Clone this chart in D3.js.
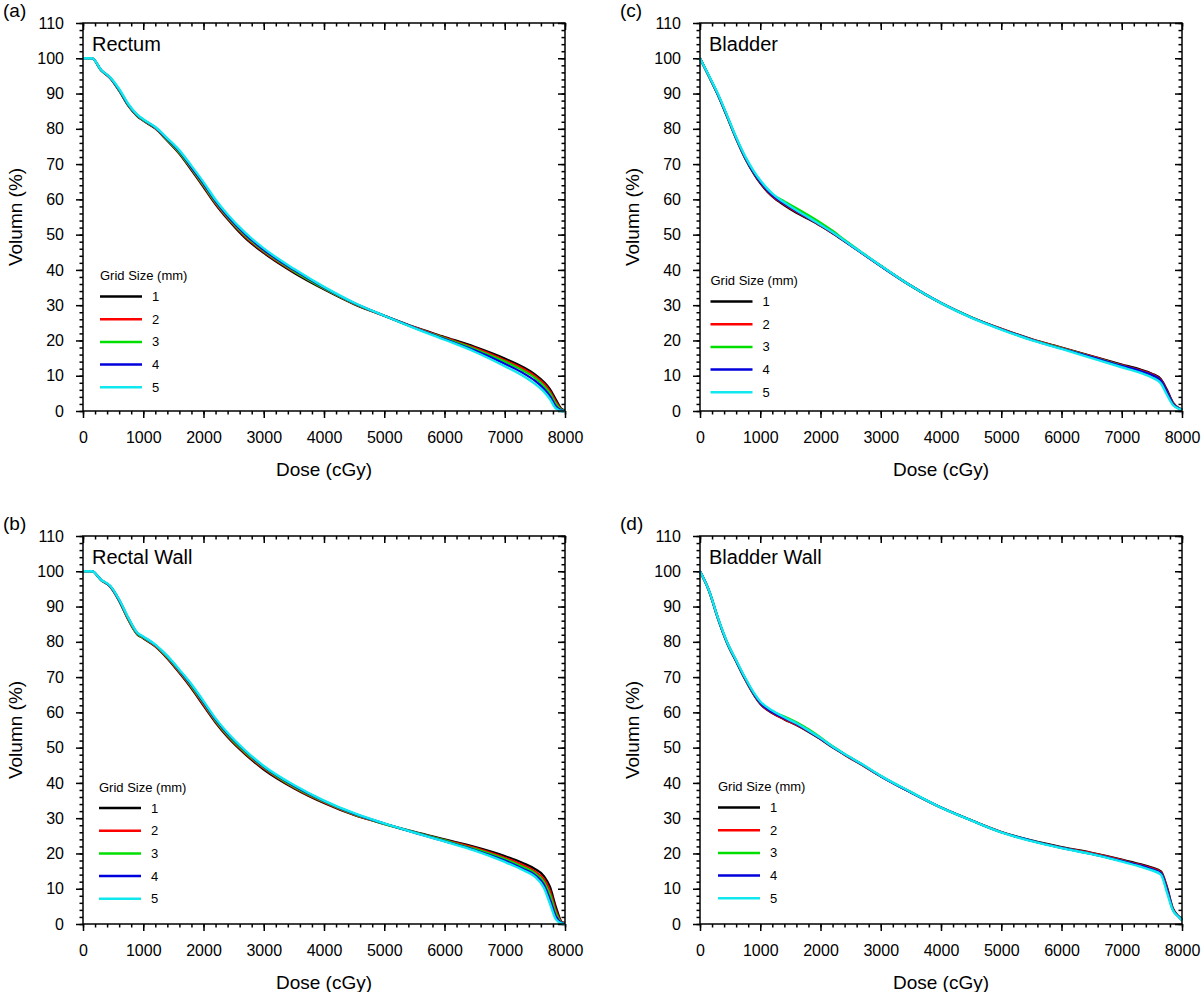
<!DOCTYPE html>
<html>
<head>
<meta charset="utf-8">
<script src="https://cdn.jsdelivr.net/npm/d3@7"></script>
<style>
  body { margin: 0; background: #fff; }
  svg { font-family: "Liberation Sans", Arial, sans-serif; }
  .tick text { font-size: 16px; fill: #000; }
  .tick line { stroke: #000; stroke-width: 1.5; }
</style>
</head>
<body>
<div id="chart"></div>
<script>
const width = 1202;
const height = 992;

// dose grid (cGy) shared by every curve
const doses = [0, 150, 300, 450, 600, 750, 900, 1000, 1200, 1400, 1600, 1800, 2000, 2200, 2400, 2700,
  3000, 3500, 4000, 4500, 5000, 5500, 6000, 6500, 7000, 7300, 7500, 7650, 7750, 7850, 7950, 8000];

const gridSizes = ["1", "2", "3", "4", "5"];
const colors = ["#000000", "#ff0000", "#00e000", "#0000dd", "#10e8f0"];
const xTicks = [0, 1000, 2000, 3000, 4000, 5000, 6000, 7000, 8000];
const yTicks = [0, 10, 20, 30, 40, 50, 60, 70, 80, 90, 100, 110];

// (a) Rectum
const rectumG1 = [100, 100, 96.6, 94.4, 90.8, 86.6, 83.6, 82.3, 80.1, 76.6, 72.9, 68.3, 63.5, 58.6, 54.4, 48.9,
  44.8, 39.2, 34.5, 30.3, 27.0, 23.8, 21.0, 18.2, 14.9, 12.5, 10.4, 8.2, 6.2, 3.2, 0.5, 0.2];
const rectumG2 = [100, 100, 96.6, 94.4, 90.9, 86.7, 83.7, 82.4, 80.2, 76.8, 73.1, 68.6, 63.8, 58.9, 54.7, 49.3,
  45.1, 39.5, 34.7, 30.4, 27.0, 23.7, 20.8, 17.9, 14.4, 12.0, 9.9, 7.7, 5.6, 2.6, 0.3, 0.1];
const rectumG3 = [100, 100, 96.6, 94.5, 91.0, 86.8, 83.8, 82.5, 80.3, 76.9, 73.3, 68.8, 64.1, 59.2, 55.0, 49.6,
  45.4, 39.7, 34.8, 30.5, 27.0, 23.6, 20.6, 17.6, 14.0, 11.5, 9.4, 7.1, 5.0, 2.0, 0.2, 0];
const rectumG4 = [100, 100, 96.7, 94.5, 91.1, 86.9, 83.9, 82.6, 80.4, 77.1, 73.6, 69.1, 64.5, 59.5, 55.3, 50.0,
  45.7, 40.0, 35.0, 30.6, 27.0, 23.6, 20.4, 17.2, 13.4, 10.8, 8.6, 6.3, 4.2, 1.3, 0.1, 0];
const rectumG5 = [100, 100, 96.7, 94.6, 91.3, 87.1, 84.0, 82.7, 80.5, 77.3, 73.9, 69.5, 64.9, 59.9, 55.7, 50.4,
  46.1, 40.3, 35.2, 30.7, 27.0, 23.5, 20.2, 16.8, 12.7, 10.0, 7.7, 5.5, 3.4, 0.7, 0, 0];

// (b) Rectal Wall
const rectalWallG1 = [100, 100, 97.5, 95.7, 91.6, 86.3, 82.1, 81.0, 78.7, 75.3, 71.2, 66.8, 61.9, 57.1, 53.0, 48.0,
  43.8, 38.5, 34.3, 30.9, 28.4, 26.1, 24.0, 21.9, 19.3, 17.3, 15.6, 13.6, 10.6, 4.8, 0.5, 0.3];
const rectalWallG2 = [100, 100, 97.5, 95.7, 91.7, 86.4, 82.2, 81.1, 78.8, 75.5, 71.4, 67.1, 62.2, 57.4, 53.3, 48.3,
  44.1, 38.7, 34.5, 31.0, 28.4, 26.0, 23.8, 21.6, 18.8, 16.7, 14.9, 12.7, 9.4, 3.8, 0.4, 0.2];
const rectalWallG3 = [100, 100, 97.5, 95.8, 91.8, 86.6, 82.3, 81.2, 79.0, 75.7, 71.7, 67.4, 62.6, 57.7, 53.6, 48.6,
  44.4, 38.9, 34.7, 31.1, 28.4, 26.0, 23.7, 21.3, 18.4, 16.2, 14.4, 11.9, 8.3, 3.0, 0.3, 0.1];
const rectalWallG4 = [100, 100, 97.6, 95.8, 91.9, 86.8, 82.5, 81.4, 79.1, 75.9, 71.9, 67.7, 62.9, 58.0, 53.9, 48.9,
  44.6, 39.2, 34.9, 31.3, 28.5, 25.9, 23.5, 21.0, 18.0, 15.7, 13.9, 11.1, 7.0, 2.1, 0.2, 0];
const rectalWallG5 = [100, 100, 97.6, 95.9, 92.0, 86.9, 82.6, 81.5, 79.2, 76.0, 72.1, 68.0, 63.2, 58.3, 54.2, 49.1,
  44.8, 39.4, 35.0, 31.4, 28.5, 25.9, 23.4, 20.8, 17.6, 15.3, 13.4, 10.3, 5.8, 1.3, 0.1, 0];

// (c) Bladder
const bladderG1 = [100, 94.8, 89.5, 83.4, 77.2, 71.6, 67.1, 64.6, 60.8, 58.3, 56.2, 54.4, 52.5, 50.4, 48.1, 44.6,
  41.1, 35.5, 30.6, 26.6, 23.3, 20.4, 18.0, 15.6, 13.2, 11.8, 10.6, 9.0, 6.0, 2.4, 0.8, 0.4];
const bladderG2 = [100, 94.8, 89.5, 83.5, 77.3, 71.7, 67.3, 64.8, 61.0, 58.6, 56.5, 54.6, 52.6, 50.5, 48.2, 44.6,
  41.1, 35.5, 30.6, 26.6, 23.3, 20.3, 17.9, 15.5, 13.0, 11.6, 10.4, 8.8, 5.7, 2.2, 0.7, 0.4];
const bladderG3 = [100, 94.9, 89.6, 83.6, 77.4, 71.9, 67.5, 65.1, 61.5, 59.4, 57.5, 55.5, 53.4, 51.1, 48.5, 44.8,
  41.2, 35.5, 30.6, 26.6, 23.2, 20.2, 17.8, 15.3, 12.8, 11.3, 10.1, 8.4, 5.2, 2.0, 0.7, 0.3];
const bladderG4 = [100, 94.9, 89.6, 83.6, 77.4, 71.9, 67.4, 65.0, 61.2, 58.8, 56.7, 54.7, 52.7, 50.6, 48.2, 44.6,
  41.1, 35.5, 30.6, 26.5, 23.2, 20.2, 17.7, 15.3, 12.8, 11.4, 10.2, 8.6, 5.4, 2.0, 0.7, 0.3];
const bladderG5 = [100, 95.0, 89.8, 83.8, 77.6, 72.2, 67.8, 65.4, 61.6, 59.1, 56.9, 54.9, 52.8, 50.7, 48.3, 44.7,
  41.2, 35.5, 30.6, 26.5, 23.1, 20.1, 17.6, 15.0, 12.4, 10.9, 9.5, 7.8, 4.6, 1.7, 0.6, 0.3];

// (d) Bladder Wall
const bladderWallG1 = [100, 94.4, 86.5, 79.6, 74.4, 69.3, 64.8, 62.4, 59.8, 58.0, 56.4, 54.5, 52.4, 50.1, 48.0, 45.0,
  41.9, 37.3, 33.0, 29.4, 26.1, 23.7, 21.8, 20.2, 18.3, 17.0, 16.0, 14.9, 10.5, 4.4, 2.1, 1.2];
const bladderWallG2 = [100, 94.4, 86.5, 79.7, 74.5, 69.4, 64.9, 62.5, 59.9, 58.1, 56.5, 54.6, 52.5, 50.2, 48.0, 45.0,
  41.9, 37.3, 33.0, 29.4, 26.1, 23.6, 21.7, 20.1, 18.1, 16.8, 15.8, 14.7, 10.2, 4.2, 2.0, 1.1];
const bladderWallG3 = [100, 94.5, 86.6, 79.8, 74.6, 69.6, 65.1, 62.8, 60.3, 58.8, 57.2, 55.2, 52.9, 50.4, 48.2, 45.1,
  42.0, 37.4, 33.0, 29.4, 26.0, 23.6, 21.6, 19.9, 17.9, 16.5, 15.5, 14.3, 9.6, 4.0, 2.0, 1.1];
const bladderWallG4 = [100, 94.5, 86.6, 79.8, 74.6, 69.6, 65.1, 62.7, 60.1, 58.3, 56.7, 54.7, 52.6, 50.2, 48.1, 45.1,
  41.9, 37.3, 33.0, 29.4, 26.0, 23.6, 21.6, 19.9, 17.9, 16.6, 15.5, 14.4, 9.8, 4.0, 2.0, 1.1];
const bladderWallG5 = [100, 94.5, 86.7, 79.9, 74.8, 69.8, 65.4, 63.1, 60.5, 58.6, 56.9, 54.9, 52.7, 50.3, 48.2, 45.2,
  42.0, 37.4, 33.0, 29.4, 26.0, 23.5, 21.5, 19.8, 17.7, 16.3, 15.2, 14.0, 9.0, 3.8, 1.9, 1.0];

// panel layout
const plotW = 482;
const plotH = 388;
const panels = [
  { tag: "(a)", title: "Rectum", left: 83, top: 23, legend: { dx: 17, dy: 273.5 },
    series: [rectumG1, rectumG2, rectumG3, rectumG4, rectumG5] },
  { tag: "(c)", title: "Bladder", left: 700, top: 23, legend: { dx: 10.5, dy: 278.5 },
    series: [bladderG1, bladderG2, bladderG3, bladderG4, bladderG5] },
  { tag: "(b)", title: "Rectal Wall", left: 83, top: 536, legend: { dx: 16, dy: 272 },
    series: [rectalWallG1, rectalWallG2, rectalWallG3, rectalWallG4, rectalWallG5] },
  { tag: "(d)", title: "Bladder Wall", left: 700, top: 536, legend: { dx: 18, dy: 271.5 },
    series: [bladderWallG1, bladderWallG2, bladderWallG3, bladderWallG4, bladderWallG5] }
];

const svg = d3.select("#chart")
  .append("svg")
  .attr("width", width)
  .attr("height", height);

const xScale = d3.scaleLinear().domain([0, 8000]).range([0, plotW]);
const yScale = d3.scaleLinear().domain([0, 110]).range([plotH, 0]);

const xMinor = d3.range(0, 8001, 200);
const yMinor = d3.range(0, 111, 2);

const line = d3.line()
  .x(d => xScale(d[0]))
  .y(d => yScale(d[1]))
  .curve(d3.curveMonotoneX);

panels.forEach(p => {
  const g = svg.append("g").attr("transform", `translate(${p.left},${p.top})`);

  // minor ticks: outward on bottom/left, inward on top/right
  g.append("g").attr("transform", `translate(0,${plotH})`)
    .call(d3.axisBottom(xScale).tickValues(xMinor).tickSize(3.5).tickFormat(""));
  g.append("g")
    .call(d3.axisTop(xScale).tickValues(xMinor).tickSize(-3.5).tickFormat(""));
  g.append("g")
    .call(d3.axisLeft(yScale).tickValues(yMinor).tickSize(3.5).tickFormat(""));
  g.append("g").attr("transform", `translate(${plotW},0)`)
    .call(d3.axisRight(yScale).tickValues(yMinor).tickSize(-3.5).tickFormat(""));

  // major ticks
  g.append("g").attr("transform", `translate(0,${plotH})`)
    .call(d3.axisBottom(xScale).tickValues(xTicks).tickSize(7).tickPadding(14).tickFormat(d3.format("d")));
  g.append("g")
    .call(d3.axisTop(xScale).tickValues(xTicks).tickSize(-7).tickFormat(""));
  g.append("g")
    .call(d3.axisLeft(yScale).tickValues(yTicks).tickSize(7).tickPadding(12).tickFormat(d3.format("d")));
  g.append("g").attr("transform", `translate(${plotW},0)`)
    .call(d3.axisRight(yScale).tickValues(yTicks).tickSize(-7).tickFormat(""));

  g.selectAll(".domain").remove();

  // curves
  p.series.forEach((vals, i) => {
    g.append("path")
      .datum(doses.map((d, j) => [d, vals[j]]))
      .attr("d", line)
      .attr("fill", "none")
      .attr("stroke", colors[i])
      .attr("stroke-width", i === 4 ? 2.4 : 2.2)
      .attr("stroke-linejoin", "round");
  });

  // frame
  g.append("rect")
    .attr("width", plotW)
    .attr("height", plotH)
    .attr("fill", "none")
    .attr("stroke", "#000")
    .attr("stroke-width", 1.5);

  // panel tag and title
  svg.append("text")
    .attr("x", p.left - 80)
    .attr("y", p.top - 6)
    .attr("font-size", 19)
    .text(p.tag);

  g.append("text")
    .attr("x", 9)
    .attr("y", 28)
    .attr("font-size", 20)
    .text(p.title);

  // axis titles
  g.append("text")
    .attr("x", plotW / 2)
    .attr("y", plotH + 65)
    .attr("text-anchor", "middle")
    .attr("font-size", 19)
    .text("Dose (cGy)");

  g.append("text")
    .attr("transform", `translate(-61,${plotH / 2}) rotate(-90)`)
    .attr("text-anchor", "middle")
    .attr("font-size", 19)
    .text("Volumn (%)");

  // legend
  const lg = g.append("g").attr("transform", `translate(${p.legend.dx},${p.legend.dy})`);
  lg.append("text")
    .attr("x", 0)
    .attr("y", -16.5)
    .attr("font-size", 13)
    .text("Grid Size (mm)");

  gridSizes.forEach((s, i) => {
    const y = i * 22.7;
    lg.append("line")
      .attr("x1", 0).attr("x2", 42)
      .attr("y1", y).attr("y2", y)
      .attr("stroke", colors[i])
      .attr("stroke-width", 2.5);
    lg.append("text")
      .attr("x", 52)
      .attr("y", y + 4.5)
      .attr("font-size", 13)
      .text(s);
  });
});
</script>
</body>
</html>
